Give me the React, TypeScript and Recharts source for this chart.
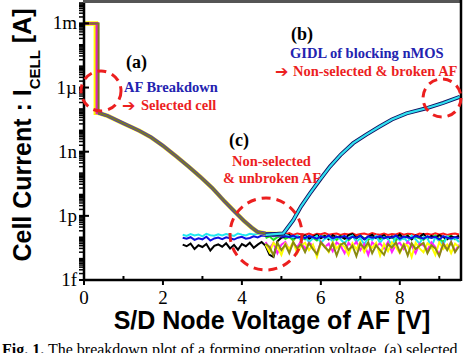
import React from 'react';
import { LineChart, Line, XAxis, YAxis } from 'recharts';

// selected cell: compliance step then decline (V, A)
const complianceI = 1e-3;
const stepStartV = 0.02;
const dropV = { yellow: 0.3, magenta: 0.33, olive: 0.37 };
const declineV = [0.36, 0.6, 1.0, 1.4, 1.7, 2.0, 2.35, 2.65, 2.95, 3.25, 3.55, 3.8, 4.05, 4.25, 4.4, 4.6, 4.8, 5.0];
const declineI = [6.6e-8, 4.7e-8, 2.1e-8, 9.5e-9, 4.7e-9, 1.9e-9, 5.8e-10, 2.0e-10, 6.6e-11, 2.0e-11, 5.0e-12, 1.7e-12, 5.9e-13, 2.8e-13, 1.75e-13, 1.5e-13, 1.4e-13, 1.4e-13];

// GIDL of blocking nMOS (V, A)
const gidlV = [4.6, 5.05, 5.3, 5.5, 5.72, 6.0, 6.23, 6.5, 6.82, 7.15, 7.49, 7.8, 8.17, 8.67, 9.1, 9.52];
const gidlI = [1.3e-13, 1.5e-13, 6.3e-13, 2.8e-12, 1.1e-11, 5.6e-11, 2.0e-10, 7.1e-10, 2.5e-9, 6.3e-9, 1.5e-8, 3.2e-8, 6.2e-8, 1.07e-7, 1.9e-7, 3.7e-7];

// measurement floor, values in fA
const floorV = [2.5, 2.6, 2.7, 2.8, 2.9, 3.0, 3.1, 3.2, 3.3, 3.4, 3.5, 3.6, 3.7, 3.8, 3.9, 4.0, 4.1, 4.2, 4.3, 4.4,
  4.5, 4.6, 4.7, 4.8, 4.9, 5.0, 5.1, 5.2, 5.3, 5.4, 5.5, 5.6, 5.7, 5.8, 5.9, 6.0, 6.1, 6.2, 6.3, 6.4,
  6.5, 6.6, 6.7, 6.8, 6.9, 7.0, 7.1, 7.2, 7.3, 7.4, 7.5, 7.6, 7.7, 7.8, 7.9, 8.0, 8.1, 8.2, 8.3, 8.4,
  8.5, 8.6, 8.7, 8.8, 8.9, 9.0, 9.1, 9.2, 9.3, 9.4, 9.5];
const cyanFloor = [130, 115, 140, 120, 135, 110, 145, 125, 118, 138, 122, 140, 128, 115, 150, 132, 120, 145, 135, 140,
  150, 145, 155, 140, 150, 148, 130, 110, 95, 120, 70, 105, 60, 90, 115, 55, 85, 100, 65, 110,
  80, 50, 95, 120, 60, 90, 45, 105, 75, 115, 55, 100, 85, 40, 110, 70, 95, 60, 120, 80,
  50, 105, 90, 35, 100, 65, 45, 110, 75, 95, 60];
const blueFloor = [95, 85, 100, 75, 90, 80, 105, 70, 88, 96, 82, 100, 90, 78, 95, 105, 85, 92, 110, 98,
  120, 115, 125, 110, 118, 105, 112, 100, 120, 95, 108, 90, 115, 100, 85, 112, 95, 120, 88, 105,
  98, 115, 85, 105, 92, 118, 80, 110, 95, 100, 112, 88, 105, 95, 120, 85, 108, 98, 90, 115,
  100, 85, 110, 92, 105, 78, 112, 95, 88, 102, 90];
const blackFloor = [45, 38, 50, 28, 42, 35, 48, 24, 40, 46, 36, 52, 30, 44, 26, 48, 38, 55, 32, 45,
  60, 40, 15, 12, 65, 95, 110, 130, 90, 105, 95, 120, 85, 105, 130, 90, 115, 80, 125, 100,
  110, 85, 125, 140, 95, 115, 80, 105, 130, 90, 100, 125, 85, 110, 95, 135, 90, 115, 80, 120,
  105, 140, 88, 115, 95, 125, 100, 80, 110, 95, 120];

const floorV2 = [4.6, 4.7, 4.8, 4.9, 5.0, 5.1, 5.2, 5.3, 5.4, 5.5, 5.6, 5.7, 5.8, 5.9, 6.0, 6.1, 6.2, 6.3, 6.4, 6.5,
  6.6, 6.7, 6.8, 6.9, 7.0, 7.1, 7.2, 7.3, 7.4, 7.5, 7.6, 7.7, 7.8, 7.9, 8.0, 8.1, 8.2, 8.3, 8.4, 8.5,
  8.6, 8.7, 8.8, 8.9, 9.0, 9.1, 9.2, 9.3, 9.4, 9.5];
const redFloor = [140, 130, 150, 125, 145, 135, 155, 128, 148, 138, 132, 150, 125, 145, 138, 155, 130, 142, 150, 128,
  145, 135, 152, 126, 140, 148, 132, 155, 138, 130, 150, 128, 142, 135, 155, 130, 145, 140, 125, 150,
  138, 145, 130, 152, 135, 148, 128, 140, 150, 135];
const greenFloor = [90, 110, 75, 100, 120, 85, 105, 70, 115, 95, 80, 110, 95, 70, 105, 120, 85, 100, 75, 115,
  95, 70, 110, 85, 120, 90, 75, 105, 100, 80, 115, 85, 100, 70, 110, 95, 120, 80, 105, 90,
  75, 110, 95, 120, 85, 60, 100, 115, 80, 105];
const magentaFloor = [60, 30, 55, 18, 45, 60, 25, 50, 35, 65, 28, 55, 40, 15, 60, 35, 50, 22, 58, 40,
  18, 55, 35, 62, 25, 48, 15, 58, 38, 52, 30, 60, 20, 45, 55, 28, 62, 40, 18, 50,
  42, 25, 58, 35, 15, 52, 30, 60, 22, 45];
const yellowFloor = [45, 20, 55, 35, 15, 50, 28, 60, 18, 40, 55, 25, 45, 12, 50, 38, 20, 58, 30, 48,
  35, 15, 52, 28, 60, 20, 45, 32, 55, 14, 48, 22, 58, 35, 18, 50, 40, 12, 55, 30,
  20, 52, 38, 15, 58, 28, 45, 18, 50, 35];
const oliveFloor = [50, 35, 14, 55, 25, 45, 18, 60, 30, 48, 20, 52, 28, 16, 58, 35, 22, 50, 14, 45,
  55, 25, 40, 13, 50, 30, 58, 18, 42, 25, 15, 48, 32, 58, 20, 45, 14, 52, 28, 40,
  55, 18, 42, 30, 13, 50, 25, 58, 20, 38];

const yMajor = [1e-15, 1e-12, 1e-9, 1e-6, 1e-3];
const yTickLabels = ['1f', '1p', '1n', '1\u00b5', '1m'];
const xTicks = [0, 1, 2, 3, 4, 5, 6, 7, 8, 9];
const xTickLabels = ['0', '', '2', '', '4', '', '6', '', '8', ''];

const PLOT_LEFT = 84;
const PLOT_BOTTOM = 280;
const SERIF = '"Liberation Serif", "Times New Roman", serif';
const SANS = '"Liberation Sans", Arial, sans-serif';
const RED = '#ec1f1f';
const BLUE = '#2323b0';

const pts = (vs: number[], is: number[]) => vs.map((v, k) => ({ v, i: is[k] }));
const fA = (vs: number[], vals: number[]) => vs.map((v, k) => ({ v, i: vals[k] * 1e-15 }));
const selected = (drop: number) => [
  { v: stepStartV, i: complianceI },
  { v: drop, i: complianceI },
  { v: drop, i: declineI[0] },
  ...pts(declineV, declineI),
];

const yTicks: number[] = [];
for (let e = -15; e <= -3; e++) {
  yTicks.push(Math.pow(10, e));
  for (let m = 2; m <= 9; m++) yTicks.push(m * Math.pow(10, e));
}

function YTick(props: any) {
  const { y, payload } = props;
  const k = yMajor.findIndex((m) => Math.abs(Math.log10(m) - Math.log10(payload.value)) < 1e-6);
  if (k >= 0) {
    return (
      <g>
        <line x1={PLOT_LEFT - 5} x2={PLOT_LEFT + 5} y1={y} y2={y} stroke="#000" strokeWidth={2} />
        <text x={77} y={y} dy={6} textAnchor="end" fontFamily={SERIF} fontSize={19} fill="#000">
          {yTickLabels[k]}
        </text>
      </g>
    );
  }
  return <line x1={PLOT_LEFT - 5} x2={PLOT_LEFT} y1={y} y2={y} stroke="#000" strokeWidth={1.5} />;
}

function XTick(props: any) {
  const { x, payload } = props;
  const k = xTicks.indexOf(payload.value);
  const label = xTickLabels[k];
  return (
    <g>
      {label ? (
        <line x1={x} x2={x} y1={PLOT_BOTTOM} y2={PLOT_BOTTOM + 5} stroke="#000" strokeWidth={2} />
      ) : (
        <line x1={x} x2={x} y1={PLOT_BOTTOM} y2={PLOT_BOTTOM - 4} stroke="#000" strokeWidth={2} />
      )}
      {label && (
        <text x={x} y={304} textAnchor="middle" fontFamily={SERIF} fontSize={19} fill="#000">
          {label}
        </text>
      )}
    </g>
  );
}

const noise = (key: string, data: any[], color: string, w = 2) => (
  <Line key={key} data={data} dataKey="i" type="linear" stroke={color} strokeWidth={w} dot={false} isAnimationActive={false} />
);

export default function App() {
  return (
    <div style={{ position: 'absolute', left: 0, top: 0, width: 474, height: 353, background: '#fff', overflow: 'hidden' }}>
      <LineChart width={474} height={353} margin={{ top: 2, right: 13, bottom: 0, left: 0 }}>
        <XAxis
          dataKey="v"
          type="number"
          domain={[0, 9.55]}
          allowDataOverflow
          ticks={xTicks}
          interval={0}
          height={73}
          tickLine={false}
          axisLine={{ stroke: '#000', strokeWidth: 2.5 }}
          tick={(p: any) => <XTick {...p} />}
        />
        <YAxis
          type="number"
          scale="log"
          domain={[1e-15, 1e-2]}
          allowDataOverflow
          ticks={yTicks}
          interval={0}
          width={84}
          tickLine={false}
          axisLine={{ stroke: '#000', strokeWidth: 2.5 }}
          tick={(p: any) => <YTick {...p} />}
        />
        {noise('red', fA(floorV2, redFloor), '#ff1a1a')}
        {noise('green', fA(floorV2, greenFloor), '#22e022')}
        {noise('black', fA(floorV, blackFloor), '#000000')}
        {noise('cyan', fA(floorV, cyanFloor), '#20e8f0')}
        {noise('magenta', fA(floorV2, magentaFloor), '#ff20ff')}
        {noise('yellow', fA(floorV2, yellowFloor), '#ffff00')}
        {noise('olive', fA(floorV2, oliveFloor), '#8a8a10')}
        {noise('blue', fA(floorV, blueFloor), '#1010e0')}
        <Line data={selected(dropV.yellow)} dataKey="i" type="linear" stroke="#ffff00" strokeWidth={4.5} dot={false} isAnimationActive={false} />
        <Line data={selected(dropV.magenta)} dataKey="i" type="linear" stroke="#e020c0" strokeWidth={3} dot={false} isAnimationActive={false} />
        <Line data={pts(declineV, declineI)} dataKey="i" type="linear" stroke="#4a3cc8" strokeWidth={3.5} dot={false} isAnimationActive={false} />
        <Line data={selected(dropV.olive)} dataKey="i" type="linear" stroke="#7a7a20" strokeWidth={2} dot={false} isAnimationActive={false} />
        <Line data={pts(gidlV, gidlI)} dataKey="i" type="linear" stroke="#101060" strokeWidth={4} dot={false} isAnimationActive={false} />
        <Line data={pts(gidlV, gidlI)} dataKey="i" type="linear" stroke="#30e0f0" strokeWidth={2.2} dot={false} isAnimationActive={false} />
      </LineChart>
      <svg width={474} height={353} style={{ position: 'absolute', left: 0, top: 0, pointerEvents: 'none' }}>
        <line x1={83} x2={462} y1={1.5} y2={1.5} stroke="#555" strokeWidth={3} />
        <line x1={461} x2={461} y1={0} y2={281} stroke="#000" strokeWidth={2.5} />

        <g fill="none" stroke={RED} strokeWidth={3} strokeDasharray="9 6">
          <ellipse cx={101} cy={91} rx={20} ry={20} />
          <ellipse cx={442} cy={98} rx={19} ry={19} />
          <ellipse cx={266} cy={234} rx={36} ry={36} />
        </g>

        <g fontFamily={SERIF} fontWeight="bold">
          <text x={126} y={68} fontSize={18} fill="#000">(a)</text>
          <text x={124} y={92} fontSize={14.5} fill={BLUE}>AF Breakdown</text>
          <text x={122} y={111} fontSize={16} fill={RED} fontFamily="DejaVu Sans">{'\u2794'}</text>
          <text x={141} y={110} fontSize={14.5} fill={RED}>Selected cell</text>

          <text x={291} y={40} fontSize={18} fill="#000">(b)</text>
          <text x={290} y={58} fontSize={14.5} fill={BLUE}>GIDL of blocking nMOS</text>
          <text x={275} y={77} fontSize={16} fill={RED} fontFamily="DejaVu Sans">{'\u2794'}</text>
          <text x={293} y={76} fontSize={14.5} fill={RED}>Non-selected &amp; broken AF</text>

          <text x={229} y={146} fontSize={18} fill="#000">(c)</text>
          <text x={232} y={166} fontSize={14.5} fill={RED}>Non-selected</text>
          <text x={223} y={183} fontSize={14.5} fill={RED}>&amp; unbroken AF</text>
        </g>

        <text x={272} y={329} textAnchor="middle" fontFamily={SANS} fontWeight="bold" fontSize={25} fill="#000">
          S/D Node Voltage of AF [V]
        </text>
        <text x={31} y={135} textAnchor="middle" transform="rotate(-90 31 135)" fontFamily={SANS} fontWeight="bold" fontSize={25} fill="#000">
          Cell Current : I<tspan fontSize={15} dy={9}>CELL</tspan><tspan dy={-9}> [A]</tspan>
        </text>

        <text x={2} y={355} fontFamily={SERIF} fontSize={16} fill="#000">
          <tspan fontWeight="bold">Fig. 1.</tspan> The breakdown plot of a forming operation voltage. (a) selected
        </text>
      </svg>
    </div>
  );
}
